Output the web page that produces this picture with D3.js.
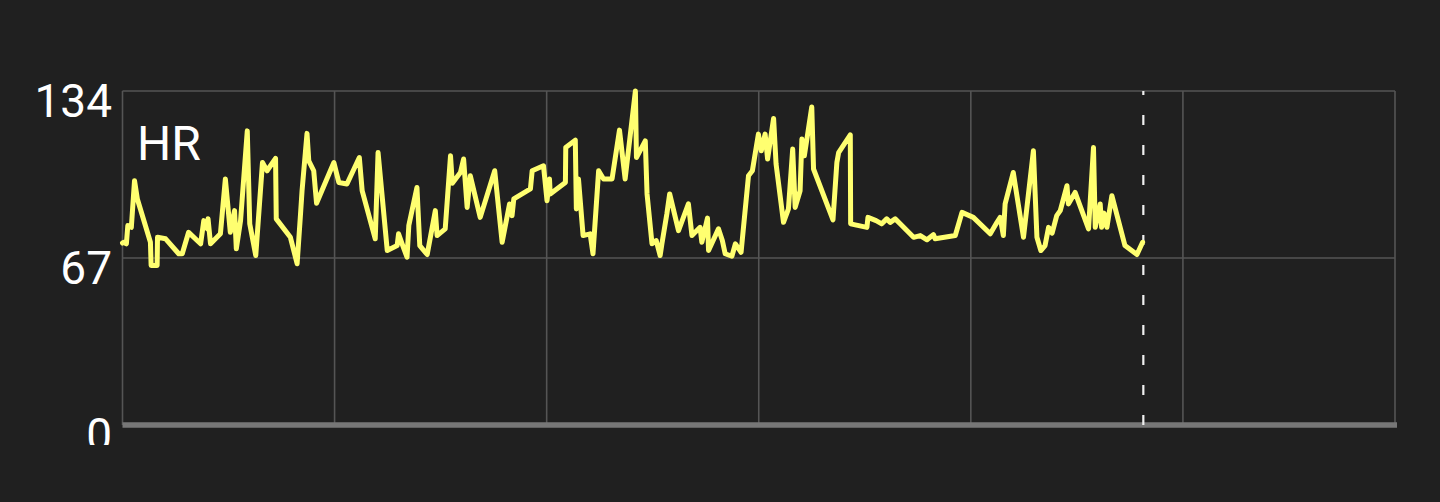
<!DOCTYPE html>
<html>
<head>
<meta charset="utf-8">
<script src="https://cdn.jsdelivr.net/npm/d3@7"></script>
<style>
  html, body { margin: 0; padding: 0; background: #202020; overflow: hidden; }
  svg { display: block; }
  text { font-family: Roboto, "Noto Sans", sans-serif; }
</style>
</head>
<body>
<div id="chart"></div>
<script>
// minutes since start of window
const times = [0,0.4,1.1,1.5,2.5,3.4,4.2,7.9,8.1,9.8,9.9,12.2,15.9,16.9,18.7,22.1,23.0,24.0,24.2,24.9,27.7,29.1,30.5,31.7,32.2,33.4,35.3,36.0,37.7,39.6,40.9,43.3,43.5,47.5,49.4,50.3,50.8,52.2,52.7,54.1,54.9,58.8,59.8,61.2,63.5,67.0,67.8,71.5,72.3,74.9,77.7,78.1,79.1,80.5,81.0,83.3,84.1,86.2,88.5,89.0,91.3,92.8,93.3,95.6,96.5,97.5,98.4,101.2,105.3,107.4,109.5,110.2,110.7,115.4,115.9,119.1,120.1,120.8,121.0,125.3,125.4,128.1,128.4,129.0,130.3,132.3,133.1,134.7,136.1,138.5,140.6,142.2,145.1,145.4,147.9,148.4,149.8,151.0,152.1,152.6,154.0,154.8,157.3,160.1,161.1,163.4,163.9,165.5,165.8,168.6,169.7,170.5,172.4,173.4,175.0,177.1,178.2,179.9,180.7,181.8,182.5,184.2,184.9,187.0,188.4,189.6,190.3,191.7,192.2,192.9,195.0,195.5,201.0,202.1,202.6,205.9,206.0,210.6,210.9,213.2,214.8,216.2,217.2,218.6,220.0,223.8,225.7,227.6,229.4,229.9,235.6,237.5,240.7,245.5,247.4,248.3,249.2,249.7,252.0,254.9,257.7,258.7,259.8,261.0,262.0,263.0,264.3,265.3,267.2,267.6,269.5,273.3,274.7,275.2,276.6,277.0,277.7,278.5,279.9,283.6,287.0,288.6];
const hr = [73,73.3,72.7,80,79.3,98,90.7,73.3,64,64,75.3,74.7,68.7,68.7,77.3,72.7,82,78.7,82.7,72.7,76.7,98.7,77.3,86,70.7,82,118,80.7,68,105.3,102,107,82.7,75.3,64.7,83.3,94,117,106,102,89,102,105.3,97.3,96.7,107.3,94,74.7,109.3,70,72,76.7,72.7,67.3,80,95.3,72,68.4,86,76,78.7,108,97,101.3,106.7,87.3,100,83.3,102,73.3,88.7,84,90.7,94.7,102,104,90,98.7,92.7,97.3,111.3,114.3,86.7,98.7,76,76.7,68.7,102,98.7,98.7,118.3,98.7,134,107.3,114,92.7,72.7,74,68,72.7,84.7,92.7,78,88.7,76,79.3,73.3,83,70,78.7,74,68.7,67.7,72.7,69.3,100,102,116.7,110,116.7,106.7,123,104.7,81.3,86.7,110.7,87.3,94,114.7,108,127.6,102.7,82.3,105.3,109.3,116.4,80.7,79.3,83.3,82,80.7,82.7,81.3,82.7,80.7,75.3,76,74.3,76.4,74.7,76,85.3,83.3,76.7,81.3,83.3,76,88.7,101.3,75.3,110,75.3,70,72,79.3,77,84,86,96,88.7,93.3,78.7,111.3,79.3,88.7,79.3,85,79.3,92,72,68.4,73.3];
const yTicks = [0, 67, 134];
const xGrid = [0, 60, 120, 180, 240, 300, 360];
const nowTime = 288.8;
const seriesLabel = "HR";

const W = 1440, H = 445;
const svg = d3.select("#chart").append("svg").attr("width", W).attr("height", H);
svg.append("rect").attr("width", W).attr("height", H).attr("fill", "#202020");

const x = d3.scaleLinear().domain([0, 360]).range([122.5, 1395]);
const y = d3.scaleLinear().domain([0, 134]).range([425, 91]);

// grid
const g = svg.append("g");
g.selectAll("line.v").data(xGrid).enter().append("line")
  .attr("x1", d => x(d)).attr("x2", d => x(d))
  .attr("y1", y(134)).attr("y2", y(0))
  .attr("stroke", "#555").attr("stroke-width", 1.6);
g.selectAll("line.h").data(yTicks.filter(d => d > 0)).enter().append("line")
  .attr("x1", x(0)).attr("x2", x(360))
  .attr("y1", d => y(d)).attr("y2", d => y(d))
  .attr("stroke", "#555").attr("stroke-width", 1.6);
g.append("line")
  .attr("x1", x(0)).attr("x2", x(360) + 2)
  .attr("y1", y(0)).attr("y2", y(0))
  .attr("stroke", "#777").attr("stroke-width", 5.5);

// tick labels
svg.selectAll("text.tick").data(yTicks).enter().append("text")
  .attr("x", 112).attr("y", d => y(d) + 26)
  .attr("text-anchor", "end").attr("fill", "#ffffff")
  .attr("font-size", 46).text(d => d);

// now marker
svg.append("line")
  .attr("x1", x(nowTime)).attr("x2", x(nowTime))
  .attr("y1", y(0)).attr("y2", y(134))
  .attr("stroke", "#f0f0f0").attr("stroke-width", 2.2)
  .attr("stroke-dasharray", "10,20");

// series
const data = times.map((t, i) => [t, hr[i]]);
const line = d3.line().x(d => x(d[0])).y(d => y(d[1]));
svg.append("path").datum(data).attr("d", line)
  .attr("fill", "none").attr("stroke", "#ffff70")
  .attr("stroke-width", 5).attr("stroke-linejoin", "round").attr("stroke-linecap", "round");

svg.append("text").attr("x", 137).attr("y", 160)
  .attr("fill", "#ffffff").attr("font-size", 48).text(seriesLabel);
</script>
</body>
</html>
